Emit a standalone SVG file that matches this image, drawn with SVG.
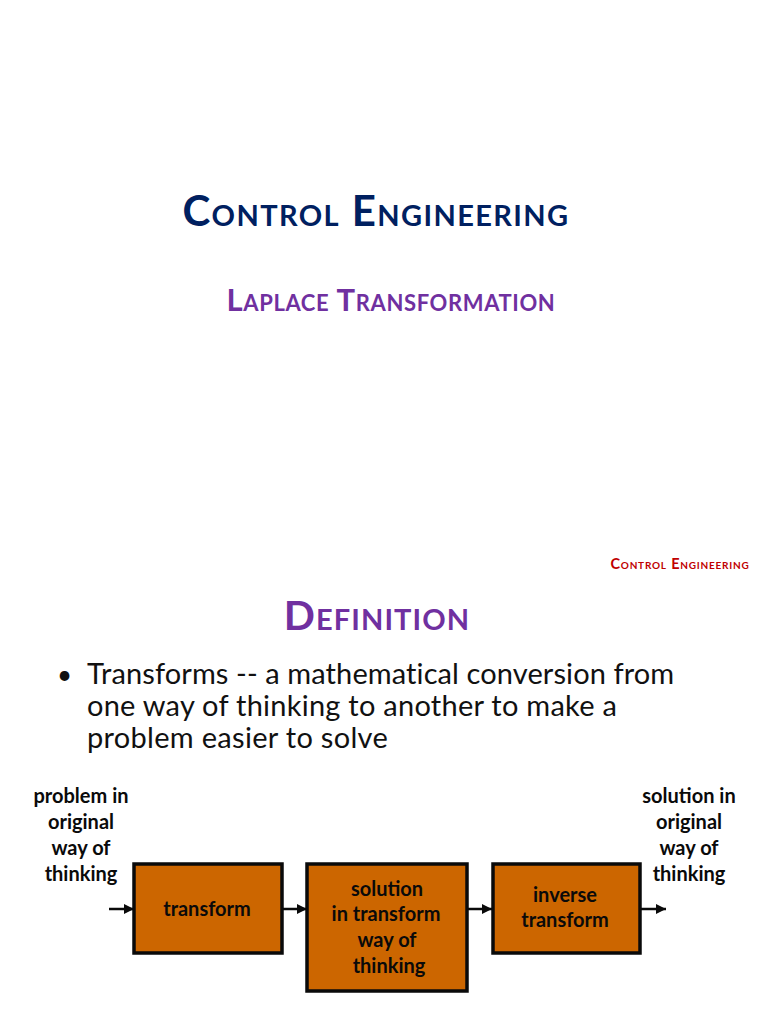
<svg xmlns="http://www.w3.org/2000/svg" width="768" height="1024" viewBox="0 0 768 1024">
<style>
text{font-family:Lato,"Liberation Sans",sans-serif}
.sc{font-weight:700;font-variant:small-caps;text-anchor:middle}
.lb{font-size:20px;font-weight:700;fill:#0a0a0a;text-anchor:middle}
.body{font-size:29px;fill:#111;letter-spacing:.1px}
.box{fill:#cc6600;stroke:#0a0a0a;stroke-width:3.5}
.arr{stroke:#0a0a0a;stroke-width:2.5;fill:none;marker-end:url(#ah)}
</style>
<defs><marker id="ah" markerUnits="userSpaceOnUse" markerWidth="10" markerHeight="12" refX="10" refY="6" orient="auto"><path d="M0 1 L10 6 L0 11 Z" fill="#0a0a0a"/></marker></defs>
<rect width="768" height="1024" fill="#fff"/>
<text id="title" class="sc" x="376" y="226" font-size="42" letter-spacing="1.4" fill="#002060">Control Engineering</text>
<text id="subtitle" class="sc" x="391" y="311" font-size="31" letter-spacing=".62" fill="#7030a0">Laplace Transformation</text>
<text id="footer" class="sc" x="680" y="569" font-size="14.500" letter-spacing=".78" fill="#c00000">Control Engineering</text>
<text id="heading" class="sc" x="377" y="630" font-size="41" letter-spacing="1.1" fill="#7030a0">Definition</text>
<g id="bullets" class="body">
<text x="57" y="683.500" font-size="26">•</text>
<text x="87" y="683.500">Transforms -- a mathematical conversion from</text>
<text x="87" y="715.500" letter-spacing=".25">one way of thinking to another to make a</text>
<text x="87" y="747.500" letter-spacing=".3">problem easier to solve</text>
</g>
<g id="connectors">
<line class="arr" x1="109" y1="909" x2="134" y2="909"/>
<line class="arr" x1="283" y1="909" x2="307" y2="909"/>
<line class="arr" x1="468" y1="909" x2="492" y2="909"/>
<line class="arr" x1="641" y1="909" x2="666" y2="909"/>
</g>
<g id="input-label" class="lb">
<text x="81" y="803">problem in</text><text x="81" y="829">original</text><text x="81" y="855">way of</text><text x="81" y="881">thinking</text>
</g>
<g id="output-label" class="lb">
<text x="689" y="803">solution in</text><text x="689" y="829">original</text><text x="689" y="855">way of</text><text x="689" y="881">thinking</text>
</g>
<g id="transform">
<rect class="box" x="134" y="864" width="148" height="89"/>
<text class="lb" x="207" y="916">transform</text>
</g>
<g id="solution">
<rect class="box" x="307" y="864" width="160" height="127"/>
<text class="lb" x="387" y="896">solution</text><text class="lb" x="386" y="921">in transform</text><text class="lb" x="387" y="947">way of</text><text class="lb" x="389" y="973">thinking</text>
</g>
<g id="inverse">
<rect class="box" x="493" y="864" width="147" height="89"/>
<text class="lb" x="565" y="902">inverse</text><text class="lb" x="565" y="927">transform</text>
</g>
</svg>
